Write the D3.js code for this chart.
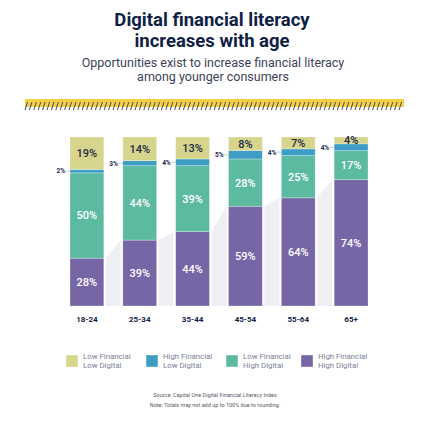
<!DOCTYPE html>
<html>
<head>
<meta charset="utf-8">
<script src="https://cdn.jsdelivr.net/npm/d3@7"></script>
<style>
  body { margin: 0; background: #fff; }
  svg text { font-family: Roboto, "Noto Sans", sans-serif; }
</style>
</head>
<body>
<div id="chart"></div>
<script>
const width = 425;
const height = 425;

// data
const ageGroups = ["18-24", "25-34", "35-44", "45-54", "55-64", "65+"];
const highFinHighDig = [28, 39, 44, 59, 64, 74];
const lowFinHighDig = [50, 44, 39, 28, 25, 17];
const highFinLowDig = [2, 3, 4, 5, 4, 4];
const lowFinLowDig = [19, 14, 13, 8, 7, 4];

const seriesKeys = ["hh", "lh", "hl", "ll"];
const seriesNames = {
  ll: ["Low Financial", "Low Digital"],
  hl: ["High Financial", "Low Digital"],
  lh: ["Low Financial", "High Digital"],
  hh: ["High Financial", "High Digital"]
};
const colors = { hh: "#7666a6", lh: "#5cbaa0", hl: "#3d9dc5", ll: "#d6d58b" };
const labelColors = { hh: "#fff", lh: "#fff", hl: "#1d2a4a", ll: "#1d2a4a" };
const legendOrder = ["ll", "hl", "lh", "hh"];

const rows = ageGroups.map((g, i) => ({
  group: g,
  hh: highFinHighDig[i],
  lh: lowFinHighDig[i],
  hl: highFinLowDig[i],
  ll: lowFinLowDig[i]
}));

const svg = d3.select("#chart")
  .append("svg")
  .attr("width", width)
  .attr("height", height);

// title block
const navy = "#0f2145";
const titleLines = ["Digital financial literacy", "increases with age"];
svg.append("g")
  .selectAll("text")
  .data(titleLines)
  .join("text")
  .attr("x", 212)
  .attr("y", (d, i) => 26 + i * 21)
  .attr("text-anchor", "middle")
  .attr("font-size", 18.5).attr("font-weight", 700)
  .attr("fill", navy)
  .text(d => d);

const subLines = ["Opportunities exist to increase financial literacy", "among younger consumers"];
svg.append("g")
  .selectAll("text")
  .data(subLines)
  .join("text")
  .attr("x", 213)
  .attr("y", (d, i) => 67 + i * 14)
  .attr("text-anchor", "middle")
  .attr("font-size", 12.5)
  .attr("fill", "#3b4357")
  .text(d => d);

// yellow hatched band
svg.append("rect")
  .attr("x", 25).attr("y", 99)
  .attr("width", 379).attr("height", 8)
  .attr("fill", "#f7cf45");
svg.append("g")
  .selectAll("line")
  .data(d3.range(25, 403, 4.4))
  .join("line")
  .attr("x1", d => d)
  .attr("y1", 110)
  .attr("x2", d => d + 2.6)
  .attr("y2", 102)
  .attr("stroke", "#3f4a66")
  .attr("stroke-width", 1);

// scales
const x = d3.scaleBand()
  .domain(ageGroups)
  .range([70, 368])
  .paddingInner(0.36)
  .paddingOuter(0);

const y = d3.scaleLinear()
  .domain([0, 1])
  .range([306, 137]);

const stack = d3.stack()
  .keys(seriesKeys)
  .offset(d3.stackOffsetExpand);
const stacked = stack(rows);

// grey area joining the tops of the purple segments between bars
const purple = stacked[0];
const gaps = d3.range(ageGroups.length - 1).map(i => [
  { x: x(ageGroups[i]) + x.bandwidth() + 2, top: purple[i][1] },
  { x: x(ageGroups[i + 1]) - 2, top: purple[i + 1][1] }
]);
const area = d3.area()
  .x(d => d.x)
  .y0(y(0))
  .y1(d => y(d.top));
svg.append("g")
  .selectAll("path")
  .data(gaps)
  .join("path")
  .attr("d", area)
  .attr("fill", "#efeff3");

// bars
const layers = svg.append("g")
  .selectAll("g")
  .data(stacked)
  .join("g")
  .attr("fill", d => colors[d.key]);

layers.selectAll("rect")
  .data(d => d.map(p => Object.assign(p, { key: d.key })))
  .join("rect")
  .attr("x", d => x(d.data.group))
  .attr("y", d => y(d[1]))
  .attr("width", x.bandwidth())
  .attr("height", d => y(d[0]) - y(d[1]))
  .attr("stroke", "#fff")
  .attr("stroke-opacity", 0.35)
  .attr("stroke-width", 0.8);

// labels inside the bars
const inside = stacked.filter(s => s.key !== "hl");
svg.append("g")
  .selectAll("g")
  .data(inside)
  .join("g")
  .selectAll("text")
  .data(s => s.map(p => ({ p, key: s.key })))
  .join("text")
  .attr("x", d => x(d.p.data.group) + x.bandwidth() / 2)
  .attr("y", d => (y(d.p[0]) + y(d.p[1])) / 2)
  .attr("dy", "0.36em")
  .attr("text-anchor", "middle")
  .attr("font-size", 11)
  .attr("font-weight", 500)
  .attr("fill", d => labelColors[d.key])
  .text(d => d.p.data[d.key] + "%");

// small labels for the thin blue segment, left of each bar
const blue = stacked.find(s => s.key === "hl");
const blueLab = svg.append("g")
  .selectAll("g")
  .data(blue)
  .join("g")
  .attr("transform", d => `translate(${x(d.data.group)},${(y(d[0]) + y(d[1])) / 2})`);
blueLab.append("line")
  .attr("x1", -5).attr("x2", 0)
  .attr("y1", 0).attr("y2", 0)
  .attr("stroke", "#9fb0c4")
  .attr("stroke-width", 0.6);
blueLab.append("text")
  .attr("x", -5)
  .attr("dy", "0.36em")
  .attr("text-anchor", "end")
  .attr("font-size", 6.5)
  .attr("font-weight", 700)
  .attr("fill", "#1d2a4a")
  .text(d => d.data.hl + "%");

// category axis
const xAxis = svg.append("g")
  .attr("transform", `translate(0,${y(0)})`)
  .call(d3.axisBottom(x).tickSize(0).tickPadding(10));
xAxis.select(".domain").remove();
xAxis.selectAll("text")
  .attr("font-size", 8)
  .attr("font-weight", 700)
  .attr("fill", navy)
  .attr("font-family", "Roboto, sans-serif");

// legend
const legendX = [66, 146, 226, 301];
const legend = svg.append("g")
  .selectAll("g")
  .data(legendOrder)
  .join("g")
  .attr("transform", (d, i) => `translate(${legendX[i]},355)`);
legend.append("rect")
  .attr("width", 12).attr("height", 12)
  .attr("fill", d => colors[d])
  .attr("stroke", "#fff")
  .attr("stroke-opacity", 0.4);
legend.selectAll("text")
  .data(d => seriesNames[d])
  .join("text")
  .attr("x", 17)
  .attr("y", (d, i) => 4 + i * 9.3)
  .attr("font-size", 7.8)
  .attr("fill", "#7a8096")
  .text(d => d);

// footnotes
const notes = ["Source: Capital One Digital Financial Literacy Index",
  "Note: Totals may not add up to 100% due to rounding."];
svg.append("g")
  .selectAll("text")
  .data(notes)
  .join("text")
  .attr("x", 215)
  .attr("y", (d, i) => 397 + i * 10)
  .attr("text-anchor", "middle")
  .attr("font-size", 5.5)
  .attr("fill", "#555a66")
  .text(d => d);
</script>
</body>
</html>
